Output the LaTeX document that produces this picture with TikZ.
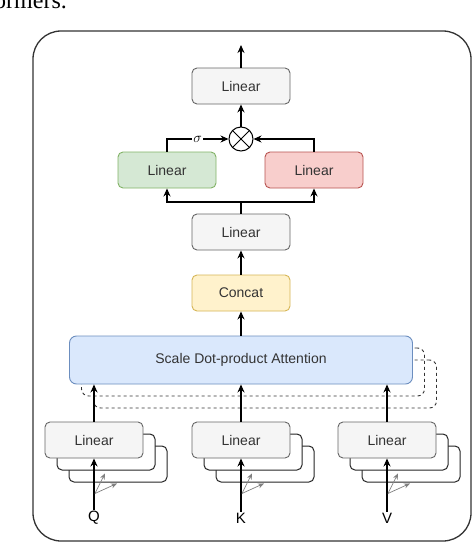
\documentclass[tikz,border=0pt]{standalone}
\usepackage{fontspec}
\setmainfont{Liberation Serif}
\setsansfont{Liberation Sans}
\usepackage{xcolor}
\definecolor{greyfill}{HTML}{F5F5F5}
\definecolor{greyline}{HTML}{666666}
\definecolor{greenfill}{HTML}{D5E8D4}
\definecolor{greenline}{HTML}{82B366}
\definecolor{redfill}{HTML}{F8CECC}
\definecolor{redline}{HTML}{B85450}
\definecolor{yellowfill}{HTML}{FFF2CC}
\definecolor{yellowline}{HTML}{D6B656}
\definecolor{bluefill}{HTML}{DAE8FC}
\definecolor{blueline}{HTML}{6C8EBF}
\definecolor{textdark}{HTML}{333333}
\usetikzlibrary{arrows.meta, positioning, backgrounds}
\tikzset{
  box/.style={
    rectangle, rounded corners=5pt, draw=#1line, fill=#1fill,
    line width=0.9pt, text=textdark, inner sep=0pt,
    font=\sffamily\fontsize{14}{16}\selectfont,
    minimum height=36pt, minimum width=98pt
  },
  copybox/.style={rectangle, rounded corners=5pt, draw=black!85,
    fill=white, line width=1pt, minimum height=36pt, minimum width=98pt},
  dashbox/.style={rectangle, rounded corners=7pt, draw=black!80,
    dashed, line width=0.9pt, minimum height=48pt, minimum width=343pt},
  arr/.style={-{Stealth[length=8pt, width=7pt]}, line width=1.3pt},
  ghost/.style={-{Stealth[length=6pt, width=5pt]}, draw=black!50, line width=0.7pt},
  inlabel/.style={font=\sffamily\fontsize{15}{17}\selectfont, inner sep=1pt},
  frame/.style={draw=textdark, line width=1.3pt, rounded corners=28pt}
}

\begin{document}
\begin{tikzpicture}[x=1pt, y=-1pt]

  \useasboundingbox (0,0) rectangle (474,544);
  \fill[white] (0,0) rectangle (474,544);

  %% Caption fragment
  \node[anchor=base west, inner sep=0pt, font=\rmfamily\fontsize{24}{26}\selectfont]
    (cap) at (-6,8) {ormers.};

  %% Outer frame
  \draw[frame] (33,31) rectangle (471,541);

  %% Output part
  \node[box=grey] (linout) at (241,86) {Linear};
  \node[circle, draw, line width=1pt, minimum size=24pt, inner sep=0pt]
    (mult) at (241,139) {};
  \draw[line width=1pt] (mult.north east) -- (mult.south west);
  \draw[line width=1pt] (mult.north west) -- (mult.south east);
  \node[box=green] (gate) at (167,170) {Linear};
  \node[box=red]   (val)  at (314,170) {Linear};
  \node[box=grey]  (linmid) at (241,232) {Linear};
  \node[box=yellow] (concat) at (241,293) {Concat};
  \coordinate (outtop) at (241,45);
  \coordinate (split) at (241,202);

  %% Attention heads
  \node[dashbox] (head3) at (265,384) {};
  \node[dashbox] (head2) at (253,372) {};
  \node[box=blue, minimum width=343pt, minimum height=48pt, rounded corners=7pt]
    (sdpa) at (241,360) {Scale Dot-product Attention};

  %% Input projections
  \node[copybox] (linQc) at (118,464) {};
  \node[copybox] (linQb) at (106,452) {};
  \node[box=grey] (linQ) at (94,440) {Linear};
  \node[copybox] (linKc) at (265,464) {};
  \node[copybox] (linKb) at (253,452) {};
  \node[box=grey] (linK) at (241,440) {Linear};
  \node[copybox] (linVc) at (411,464) {};
  \node[copybox] (linVb) at (399,452) {};
  \node[box=grey] (linV) at (387,440) {Linear};

  \node[inlabel] (q) at (94,518)  {Q};
  \node[inlabel] (k) at (241,518) {K};
  \node[inlabel] (v) at (387,518) {V};

  %% Connectors
  \draw[arr] (q) -- (linQ);
  \draw[arr] (k) -- (linK);
  \draw[arr] (v) -- (linV);
  \draw[ghost] ([shift={(1,35)}]linQ.south) -- ++(10,-20);
  \draw[ghost] ([shift={(1,35)}]linQ.south) -- ++(22,-10);
  \draw[ghost] ([shift={(1,35)}]linK.south) -- ++(10,-20);
  \draw[ghost] ([shift={(1,35)}]linK.south) -- ++(22,-10);
  \draw[ghost] ([shift={(1,35)}]linV.south) -- ++(10,-20);
  \draw[ghost] ([shift={(1,35)}]linV.south) -- ++(22,-10);

  \draw[arr] (linQ.north) -- (linQ.north |- sdpa.south);
  \draw[arr] (linK.north) -- (linK.north |- sdpa.south);
  \draw[arr] (linV.north) -- (linV.north |- sdpa.south);

  \draw[arr] (sdpa.north -| concat) -- (concat);
  \draw[arr] (concat) -- (linmid);
  \draw[line width=1.3pt] (linmid.north) -- (split);
  \draw[arr] (split) -| (gate.south);
  \draw[arr] (split) -| (val.south);
  \draw[arr] (gate.north) |- node[pos=0.75, fill=white, inner sep=1pt,
    font=\rmfamily\itshape\fontsize{14}{14}\selectfont]{$\sigma$} (mult.west);
  \draw[arr] (val.north) |- (mult.east);
  \draw[arr] (mult) -- (linout);
  \draw[arr] (linout) -- (outtop);

\end{tikzpicture}
\end{document}
